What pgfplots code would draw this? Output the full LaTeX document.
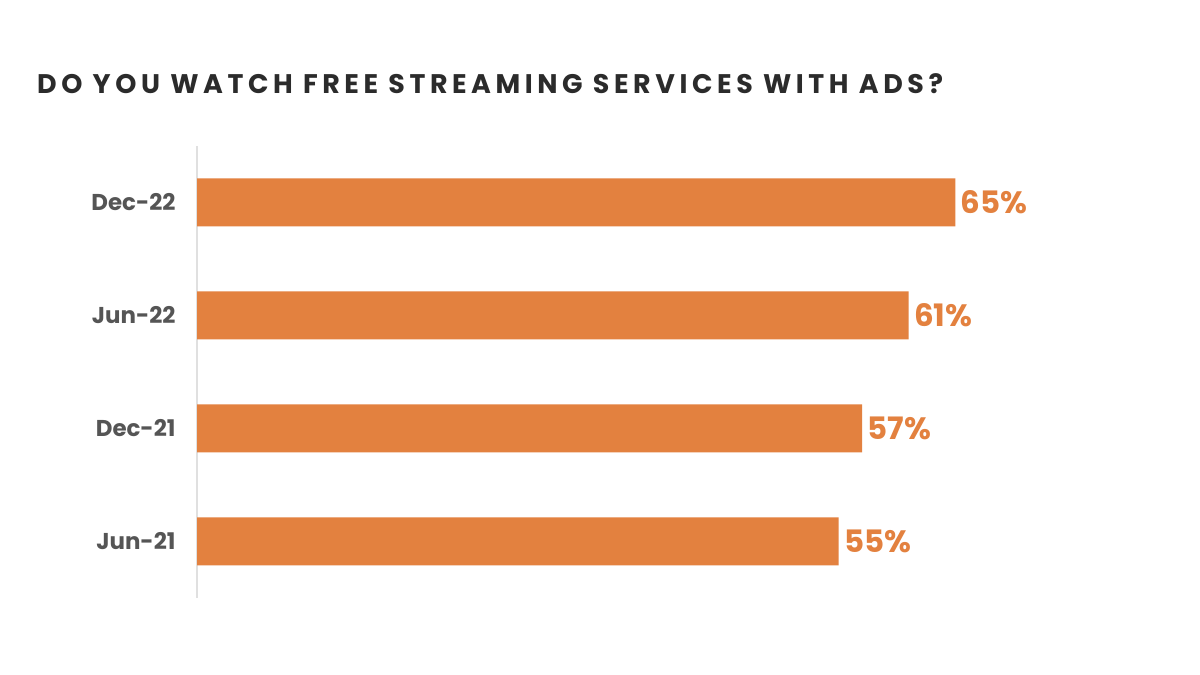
\documentclass[border=0pt]{standalone}
\usepackage{pgfplots}
\pgfplotsset{compat=1.18}
\usepackage{fontspec}
\setmainfont{Poppins}
\newfontfamily\titlefont[LetterSpace=17]{Poppins}
\definecolor{barorange}{HTML}{E3813F}
\definecolor{labelgray}{HTML}{555555}
\definecolor{titlegray}{HTML}{2B2B2B}
\begin{document}
\begin{tikzpicture}[x=1bp,y=1bp]
\fill[white] (0,0) rectangle (1200,675);
\node[anchor=west,inner sep=0pt,text=titlegray,font=\titlefont\bfseries\fontsize{27}{30}\selectfont] at (37,591) {DO YOU WATCH FREE STREAMING SERVICES WITH ADS?};
\begin{axis}[
  at={(197bp,77bp)}, anchor=south west,
  scale only axis, width=903bp, height=452bp,
  xbar, bar width=48bp,
  xmin=0, xmax=77.4, ymin=0.5, ymax=4.5,
  axis x line=none,
  axis y line*=left,
  y axis line style={draw=black!12, line width=1.2pt, -},
  ytick={1,2,3,4},
  yticklabels={Jun-21,Dec-21,Jun-22,Dec-22},
  major tick length=0pt,
  yticklabel style={font=\bfseries\fontsize{23}{26}\selectfont, text=labelgray, xshift=-18bp},
  /pgf/number format/assume math mode=true,
  nodes near coords={\pgfmathprintnumber{\pgfplotspointmeta}\%},
  nodes near coords style={font=\bfseries\fontsize{31}{34}\selectfont, text=barorange, anchor=west, xshift=2bp},
  point meta=explicit,
]
\addplot[fill=barorange, draw=none] coordinates {(55,1) [55] (57,2) [57] (61,3) [61] (65,4) [65]};
\end{axis}
\end{tikzpicture}
\end{document}
